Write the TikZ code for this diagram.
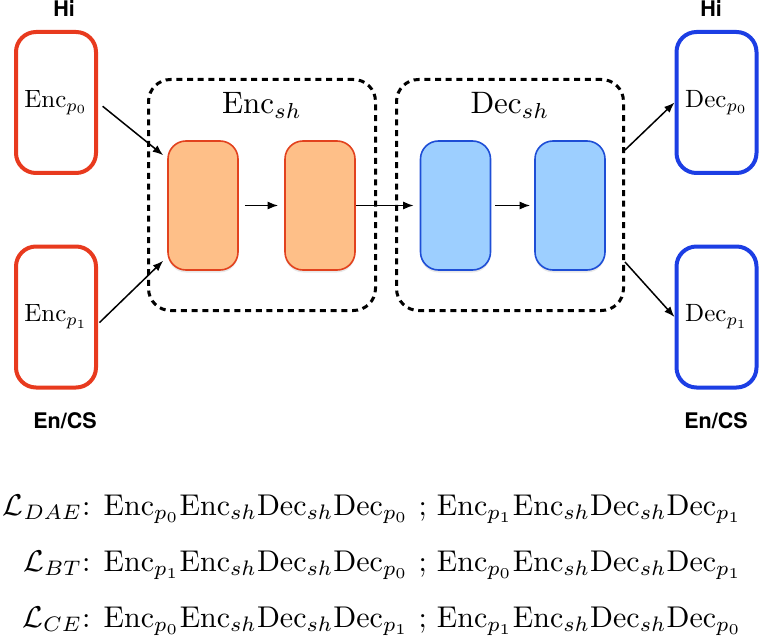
\documentclass[tikz,border=0pt]{standalone}
\usepackage{fontspec}
\usepackage{amsmath}
\usepackage{graphicx}
\newfontfamily\labfont{TeX Gyre Heros}
\usetikzlibrary{arrows.meta,calc,shadows}
\definecolor{encred}{RGB}{232,58,30}
\definecolor{encfill}{RGB}{254,191,136}
\definecolor{encin}{RGB}{226,66,30}
\definecolor{decblue}{RGB}{28,62,228}
\definecolor{decfill}{RGB}{157,207,255}
\definecolor{decin}{RGB}{30,78,214}
\newcommand{\boxlab}[1]{\scalebox{2.5}{#1}}
\newcommand{\grplab}[1]{\scalebox{3.1}{#1}}
\newcommand{\eqlab}[1]{\scalebox{3.0}{#1}}
\tikzset{
  outerbox/.style={draw, line width=4pt, rounded corners=20pt, minimum width=80pt, minimum height=141pt, inner sep=0pt},
  encouter/.style={outerbox, draw=encred},
  decouter/.style={outerbox, draw=decblue},
  innerbox/.style={draw, line width=1.6pt, rounded corners=18pt, minimum width=70pt, minimum height=129pt, inner sep=0pt,
     drop shadow={opacity=0.18, shadow xshift=0pt, shadow yshift=-2.5pt}},
  encinner/.style={innerbox, draw=encin, fill=encfill},
  decinner/.style={innerbox, draw=decin, fill=decfill},
  groupbox/.style={draw, line width=3pt, dash pattern=on 6pt off 4.7pt, rounded corners=22pt, minimum width=227pt, minimum height=231pt, inner sep=0pt},
  grouplabel/.style={anchor=base, inner sep=0pt},
  langlabel/.style={font=\labfont\bfseries\fontsize{21.5}{26}\selectfont, anchor=base},
  conn/.style={line width=1.5pt, -{Latex[length=10.5pt,width=8pt]}},
  eqrow/.style={anchor=base east, inner sep=0pt}
}
\begin{document}
\begin{tikzpicture}[x=1pt,y=-1pt]
\useasboundingbox (0,0) rectangle (760,639);
% outer encoder / decoder boxes
\node[encouter] (ep0) at (56,102.5) {\boxlab{Enc$_{p_0}$}};
\node[encouter] (ep1) at (56,317) {\boxlab{Enc$_{p_1}$}};
\node[decouter] (dp0) at (716.5,102.5) {\boxlab{Dec$_{p_0}$}};
\node[decouter] (dp1) at (716.5,317) {\boxlab{Dec$_{p_1}$}};
% language labels
\node[langlabel] (hil) at (64,17) {Hi};
\node[langlabel] (hir) at (711,17) {Hi};
\node[langlabel] (enl) at (65,428) {En/CS};
\node[langlabel] (enr) at (716,428) {En/CS};
% shared groups
\node[groupbox] (encsh) at (262,195) {};
\node[groupbox] (decsh) at (510,195) {};
\node[grouplabel] (encl) at (262,114) {\grplab{Enc$_{sh}$}};
\node[grouplabel] (decl) at (510,114) {\grplab{Dec$_{sh}$}};
% inner layers
\node[encinner] (e1) at (203,205.5) {};
\node[encinner] (e2) at (320,205.5) {};
\node[decinner] (d1) at (455.5,205.5) {};
\node[decinner] (d2) at (570,205.5) {};
% connectors
\coordinate (e1in0) at ($(e1.north west)+(-4,15)$);
\coordinate (e1in1) at ($(e1.south west)+(-4,-10)$);
\coordinate (do0) at ($(decsh.east)+(0,-45)$);
\coordinate (do1) at ($(decsh.east)+(0,67)$);
\draw[conn, shorten <=6pt] (ep0.east) -- (e1in0);
\draw[conn, shorten <=2pt] ($(ep1.east)+(0,7)$) -- (e1in1);
\draw[conn, shorten <=6pt, shorten >=6pt] (e1.east) -- (e2.west);
\draw[conn, shorten >=6pt] (e2.east) -- (d1.west);
\draw[conn, shorten <=4pt, shorten >=4pt] (d1.east) -- (d2.west);
\draw[conn] (do0) -- (dp0.west);
\draw[conn] (do1) -- (dp1.west);
% loss equations
\node[eqrow] (l1) at (742,515) {\eqlab{$\mathcal{L}_{DAE}$: Enc$_{p_0}$Enc$_{sh}$Dec$_{sh}$Dec$_{p_0}$ ; Enc$_{p_1}$Enc$_{sh}$Dec$_{sh}$Dec$_{p_1}$}};
\node[eqrow] (l2) at (742,571) {\eqlab{$\mathcal{L}_{BT}$: Enc$_{p_1}$Enc$_{sh}$Dec$_{sh}$Dec$_{p_0}$ ; Enc$_{p_0}$Enc$_{sh}$Dec$_{sh}$Dec$_{p_1}$}};
\node[eqrow] (l3) at (742,627) {\eqlab{$\mathcal{L}_{CE}$: Enc$_{p_0}$Enc$_{sh}$Dec$_{sh}$Dec$_{p_1}$ ; Enc$_{p_1}$Enc$_{sh}$Dec$_{sh}$Dec$_{p_0}$}};
\end{tikzpicture}
\end{document}
